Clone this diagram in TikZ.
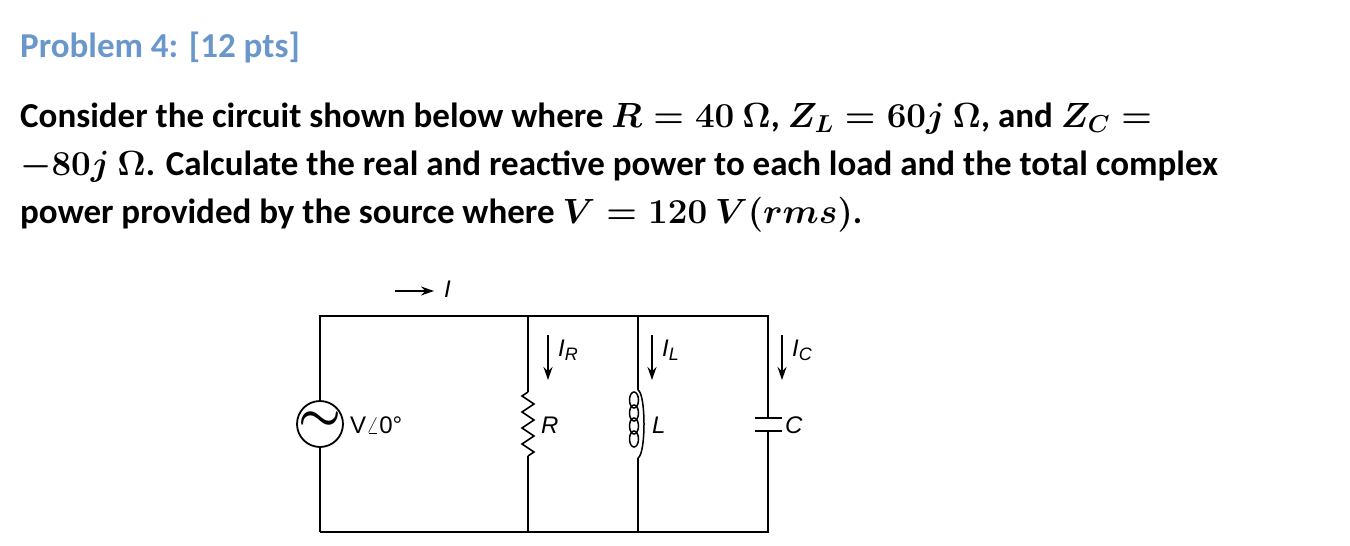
\documentclass[tikz,border=0pt]{standalone}
\usepackage{fix-cm}
\usepackage{fontspec}
\setmainfont{Carlito}
\newfontfamily\cfont{Liberation Sans}
\usetikzlibrary{arrows.meta}
\definecolor{ttl}{HTML}{6A97CB}
\begin{document}
\begin{tikzpicture}[x=1pt,y=-1pt,
  wire/.style={line width=2.2pt},
  txt/.style={anchor=base west,inner sep=0pt,font=\fontsize{35}{40}\selectfont\bfseries\boldmath},
  lab/.style={inner sep=0pt,font=\cfont\fontsize{24}{26}\selectfont},
  carr/.style={line width=1.8pt,-{Stealth[length=13pt,width=9pt]}}]
\useasboundingbox (0,0) rectangle (1350,546);
\node[txt,text=ttl] (t0) at (20,57) {Problem 4: [12 pts]};
\node[txt] (t1) at (20,127) {Consider the circuit shown below where $R=40\ \Omega$, $Z_L=60j\ \Omega$, and $Z_C=$};
\node[txt] (t2) at (20,175) {$-80j\ \Omega$. Calculate the real and reactive power to each load and the total complex};
\node[txt] (t3) at (20,223) {power provided by the source where $V=120\ V(rms)$.};
\coordinate (tl) at (320,316); \coordinate (bl) at (320,532);
\coordinate (tr) at (528,316); \coordinate (br) at (528,532);
\coordinate (tlL) at (638,316); \coordinate (blL) at (638,532);
\coordinate (tc) at (768,316); \coordinate (bc) at (768,532);
\node[draw,circle,line width=1.8pt,minimum size=46pt,inner sep=0pt] (src) at (320,424) {};
\node[inner sep=0pt,font=\fontsize{48}{48}\selectfont\boldmath] (tilde) at (320,421) {$\sim$};
\draw[wire] (bl) -- (src.south);
\draw[wire] (src.north) -- (tl) -- (tc) -- (768,418);
\draw[wire] (bl) -- (bc) -- (768,431);
\draw[wire] (tr) -- (528,392);
\draw[wire] (br) -- (528,456);
\draw[line width=1.6pt,line join=miter] (528,392) -- (522,396) -- (534,404) -- (522,412) -- (534,420) -- (522,428) -- (534,436) -- (522,444) -- (534,452) -- (528,456);
\draw[wire] (tlL) -- (638,390);
\draw[wire] (blL) -- (638,458);
\draw[line width=1.5pt] (638,390) .. controls (646,394) and (646,454) .. (638,458);
\foreach \k in {0,1,2,3} \draw[line width=1.5pt] (634,{400+13*\k}) ellipse (4.5 and 8);
\draw[line width=2pt] (755,418) -- (782,418) (755,431) -- (782,431);
\draw[carr] (395,291) -- (434,291);
\node[lab,anchor=west] (I) at (444,289) {\itshape I};
\node[lab,anchor=west] (V) at (350,425) {V$\angle$0\textdegree};
\node[lab,anchor=west] (R) at (541,425) {\itshape R};
\node[lab,anchor=west] (L) at (652,425) {\itshape L};
\node[lab,anchor=west] (C) at (785,425) {\itshape C};
\draw[carr] (548,335) -- (548,380);
\node[lab,anchor=west] (IR) at (558,350) {\itshape I\raisebox{-4pt}{\cfont\fontsize{18}{18}\selectfont R}};
\draw[carr] (652,335) -- (652,380);
\node[lab,anchor=west] (IL) at (662,350) {\itshape I\raisebox{-4pt}{\cfont\fontsize{18}{18}\selectfont L}};
\draw[carr] (782,335) -- (782,380);
\node[lab,anchor=west] (IC) at (792,350) {\itshape I\raisebox{-4pt}{\cfont\fontsize{18}{18}\selectfont C}};
\end{tikzpicture}
\end{document}
